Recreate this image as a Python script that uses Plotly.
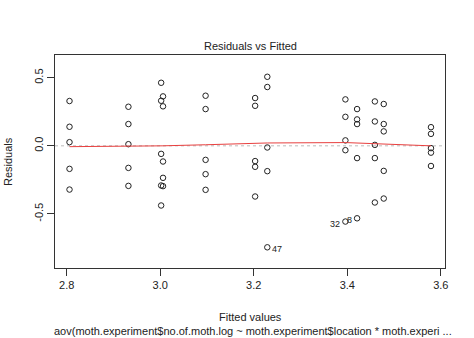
import plotly.graph_objects as go

# fitted values (one per group) and residuals (5 per group)
fitted_groups = [2.806, 2.932, 3.002, 3.006, 3.097, 3.203, 3.229, 3.396, 3.421, 3.459, 3.478, 3.579]
residual_groups = [
    [0.329, 0.140, 0.027, -0.169, -0.321],
    [0.287, 0.160, 0.012, -0.162, -0.294],
    [0.463, 0.331, -0.059, -0.291, -0.438],
    [0.363, 0.290, -0.115, -0.235, -0.296],
    [0.368, 0.270, -0.103, -0.208, -0.323],
    [0.351, 0.294, -0.112, -0.154, -0.372],
    [0.507, 0.432, -0.012, -0.186, -0.745],
    [0.341, 0.213, 0.040, -0.032, -0.556],
    [0.270, 0.194, 0.160, -0.090, -0.532],
    [0.326, 0.179, 0.007, -0.090, -0.416],
    [0.307, 0.160, 0.106, -0.184, -0.387],
    [0.137, 0.088, -0.017, -0.050, -0.148],
]
# lowess smooth
smooth_x = [2.806, 2.932, 3.004, 3.097, 3.203, 3.229, 3.396, 3.421, 3.459, 3.478, 3.579]
smooth_y = [-0.006, -0.004, 0.000, 0.008, 0.018, 0.021, 0.024, 0.021, 0.015, 0.011, 0.000]
# labelled outliers: (id, fitted, residual, side)
outliers = [("47", 3.229, -0.745, "right"), ("32", 3.396, -0.556, "left"), ("8", 3.421, -0.532, "left")]

x_ticks = [2.8, 3.0, 3.2, 3.4, 3.6]
y_ticks = [-0.5, 0.0, 0.5]

xs, ys = [], []
for f, rs in zip(fitted_groups, residual_groups):
    for r in rs:
        xs.append(f)
        ys.append(r)

FONT = "Liberation Sans, Arial, sans-serif"
INK = "#222222"

fig = go.Figure()
fig.add_trace(go.Scatter(x=xs, y=ys, mode="markers",
                         marker=dict(symbol="circle-open", size=5.5, color=INK, line=dict(width=1, color=INK)),
                         showlegend=False))
fig.add_trace(go.Scatter(x=smooth_x, y=smooth_y, mode="lines",
                         line=dict(color="#e8403f", width=1), showlegend=False))

annotations = [
    dict(x=250/474, y=1 - 45.7/338, xref="paper", yref="paper", yanchor="middle", xanchor="center",
         text="Residuals vs Fitted", showarrow=False, font=dict(family=FONT, size=11, color=INK)),
    dict(x=250/474, y=1 - 316.7/338, xref="paper", yref="paper", yanchor="middle", xanchor="center",
         text="Fitted values", showarrow=False, font=dict(family=FONT, size=11, color=INK)),
    dict(x=253/474, y=1 - 331/338, xref="paper", yref="paper", yanchor="middle", xanchor="center",
         text="aov(moth.experiment$no.of.moth.log ~ moth.experiment$location * moth.experi ...",
         showarrow=False, font=dict(family=FONT, size=11, color=INK)),
    dict(x=7.5/474, y=1 - 161.5/338, xref="paper", yref="paper", yanchor="middle", xanchor="center",
         text="Residuals", textangle=-90, showarrow=False, font=dict(family=FONT, size=11, color=INK)),
]
for lab, fx, ry, side in outliers:
    annotations.append(dict(x=fx, y=ry, xref="x", yref="y", text=lab, showarrow=False,
                            xanchor="left" if side == "right" else "right",
                            xshift=3 if side == "right" else -3, yshift=-2,
                            font=dict(family=FONT, size=9, color=INK)))

# convert paper coords relative to plot area for title/labels
# (paper refers to plot area; convert pixel positions)
L, R, T, B = 55, 29, 55, 70
W, H = 474, 338
pw, ph = W - L - R, H - T - B
def px_to_paper(px, py):
    return (px - L) / pw, (H - B - py) / ph

pos = [(250, 45.7), (250, 316.7), (253, 331), (7.5, 161.5)]
for a, (px, py) in zip(annotations[:4], pos):
    a["x"], a["y"] = px_to_paper(px, py)

fig.update_layout(
    width=W, height=H,
    margin=dict(l=L, r=R, t=T, b=B),
    paper_bgcolor="white", plot_bgcolor="white",
    font=dict(family=FONT, size=11, color=INK),
    annotations=annotations,
    shapes=[dict(type="line", xref="paper", yref="y", x0=0, x1=1, y0=0, y1=0,
                 line=dict(color="#bbbbbb", width=1, dash="dot"), layer="below")],
)

fig.update_xaxes(range=[2.775, 3.609], tickvals=x_ticks, ticktext=[f"{v:.1f}" for v in x_ticks],
                 showgrid=False, zeroline=False, showline=True, mirror=True, linecolor="#333333", linewidth=1,
                 ticks="outside", ticklen=7, tickcolor="#333333", tickwidth=1,
                 tickfont=dict(family=FONT, size=11, color=INK))
fig.update_yaxes(range=[-0.897, 0.667], tickvals=y_ticks, ticktext=["-0.5", "0.0", "0.5"],
                 tickangle=-90,
                 showgrid=False, zeroline=False, showline=True, mirror=True, linecolor="#333333", linewidth=1,
                 ticks="outside", ticklen=7, tickcolor="#333333", tickwidth=1,
                 tickfont=dict(family=FONT, size=11, color=INK))

fig.write_html("out.html")
